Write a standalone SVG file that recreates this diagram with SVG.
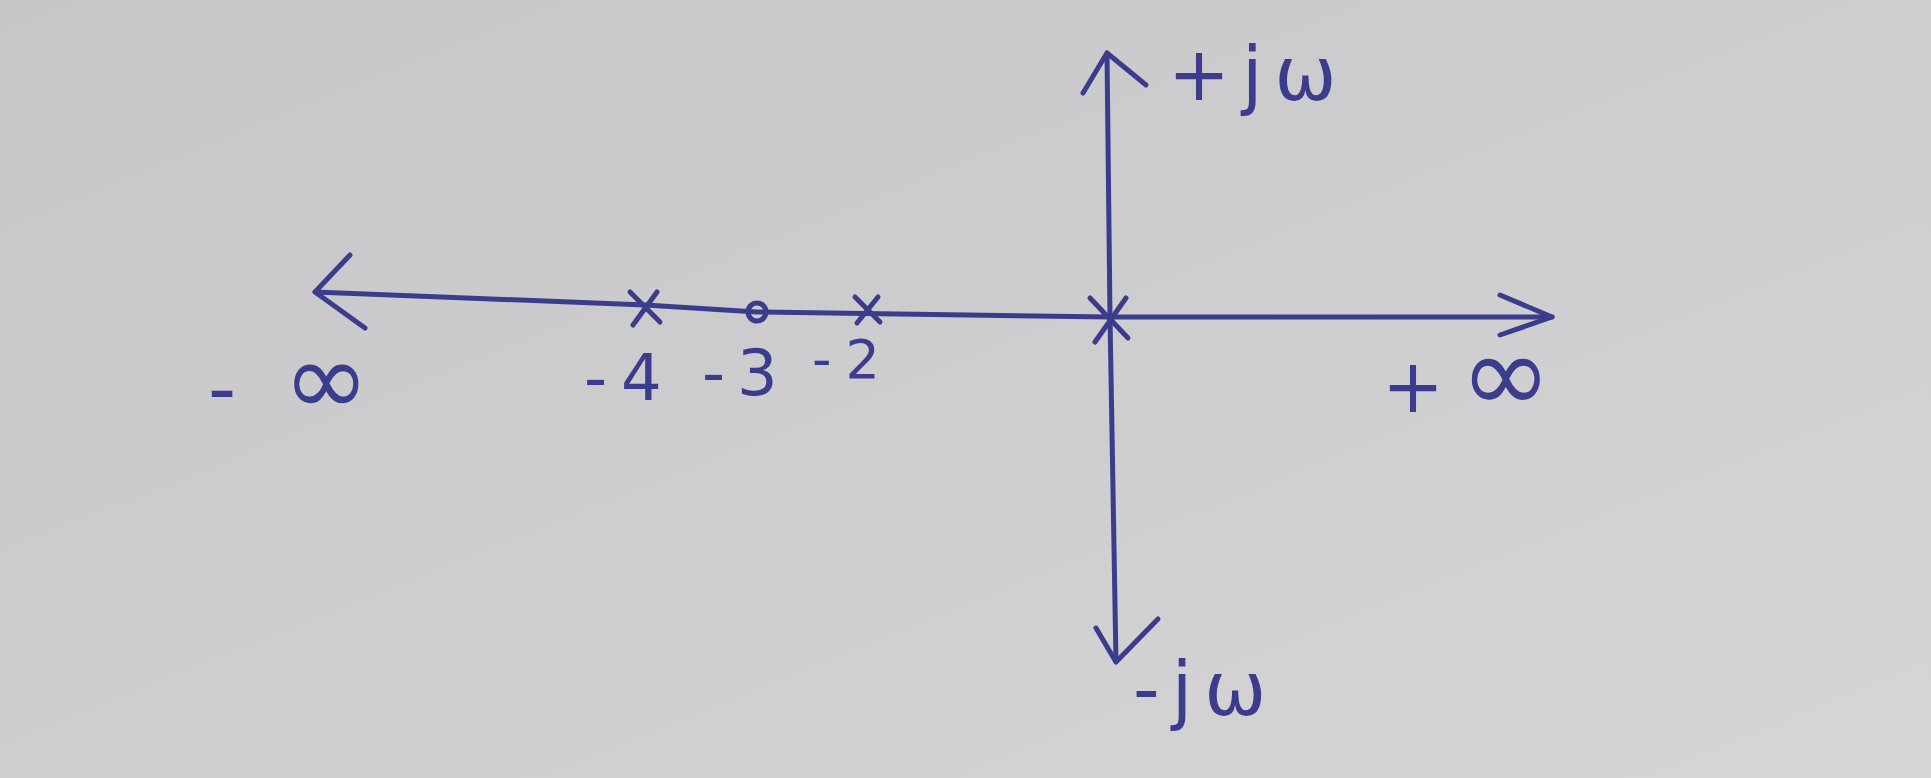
<svg xmlns="http://www.w3.org/2000/svg" width="1931" height="778" viewBox="0 0 1931 778">
<defs>
<linearGradient id="bg" x1="0" y1="0" x2="1" y2="1">
<stop offset="0" stop-color="#c6c6c9"/>
<stop offset="0.6" stop-color="#cfcfd1"/>
<stop offset="1" stop-color="#d6d6d7"/>
</linearGradient>
<style>
.ink{fill:none;stroke:#3c3c8c;stroke-width:5;stroke-linecap:round;stroke-linejoin:round}
.lbl{font-family:"DejaVu Sans",sans-serif;fill:#3c3c8c}
</style>
</defs>
<rect width="1931" height="778" fill="url(#bg)"/>
<g id="connectors">
<polyline id="real-axis" class="ink" points="315,292 645,305 757,312 1110,317 1552,317"/>
<polyline class="ink" points="350,255 315,292 365,328"/>
<polyline class="ink" points="1500,295 1552,317 1500,335"/>
<polyline id="imag-axis" class="ink" points="1107,53 1110,317 1116,662"/>
<polyline class="ink" points="1083,93 1107,53 1146,85"/>
<polyline class="ink" points="1096,628 1116,662 1158,619"/>
</g>
<g id="origin">
<path class="ink" d="M1090,298 L1128,338 M1126,298 L1095,342"/>
</g>
<g id="pole-4">
<path class="ink" d="M630,292 L660,322 M657,292 L633,325"/>
<text class="lbl" x="584" y="400" font-size="64" letter-spacing="14">-4</text>
</g>
<g id="zero-3">
<circle class="ink" cx="757" cy="312" r="9"/>
<text class="lbl" x="702" y="395" font-size="64" letter-spacing="12">-3</text>
</g>
<g id="pole-2">
<path class="ink" d="M855,297 L880,322 M878,297 L857,323"/>
<text class="lbl" x="812" y="378" font-size="54" letter-spacing="14">-2</text>
</g>
<g id="neg-inf">
<text class="lbl" y="415"><tspan x="208" font-size="78">-</tspan><tspan x="283" font-size="104">∞</tspan></text>
</g>
<g id="pos-inf">
<text class="lbl" y="412"><tspan x="1382" font-size="74">+</tspan><tspan x="1460" font-size="110">∞</tspan></text>
</g>
<g id="pos-jw">
<text class="lbl" x="1168" y="100" font-size="74" letter-spacing="12">+jω</text>
</g>
<g id="neg-jw">
<text class="lbl" x="1133" y="715" font-size="74" letter-spacing="12">-jω</text>
</g>
</svg>
